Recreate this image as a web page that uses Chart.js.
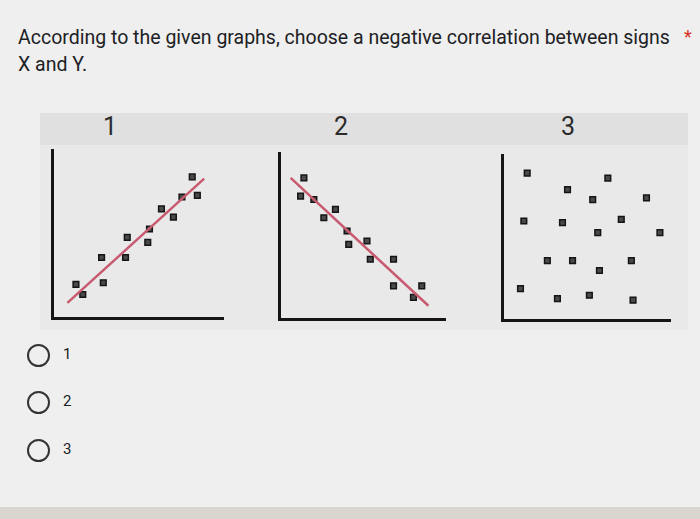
<!DOCTYPE html>
<html>
<head>
<meta charset="utf-8">
<script src="https://cdn.jsdelivr.net/npm/chart.js@4.4.0/dist/chart.umd.min.js"></script>
<style>
  body { margin: 0; width: 700px; height: 519px; background: #efefef; font-family: Roboto, "Noto Sans", sans-serif; position: relative; overflow: hidden; }
  .q { position: absolute; left: 18px; top: 24px; font-size: 19.5px; line-height: 27px; color: #202124; width: 680px; }
  .star { position: absolute; left: 684px; top: 26px; color: #d93025; font-size: 18px; }
  .panel { position: absolute; left: 40px; top: 145px; width: 648px; height: 185px; background: #e9e9e9; }
  .strip { position: absolute; left: 40px; top: 113px; width: 648px; height: 32px; background: #e0e0e0; }
  .num { position: absolute; top: 112px; font-size: 25px; color: #2b2b2b; width: 30px; text-align: center; }
  canvas { position: absolute; }
  .opt { position: absolute; left: 27px; width: 19px; height: 19px; border: 2px solid #333; border-radius: 50%; }
  .lbl { position: absolute; left: 63px; font-size: 15px; color: #202124; }
  .foot { position: absolute; left: 0; top: 507px; width: 700px; height: 12px; background: #d9d6cf; }
</style>
</head>
<body>
<div class="q">According to the given graphs, choose a negative correlation between signs<br>X and Y.</div>
<div class="star">*</div>
<div class="strip"></div>
<div class="panel"></div>
<div class="num" style="left:95px">1</div>
<div class="num" style="left:326px">2</div>
<div class="num" style="left:553px">3</div>
<canvas id="g1" style="left:43px;top:140px;width:190px;height:190px" width="190" height="190"></canvas>
<canvas id="g2" style="left:270px;top:143px;width:185px;height:188px" width="185" height="188"></canvas>
<canvas id="g3" style="left:493px;top:145px;width:187px;height:187px" width="187" height="187"></canvas>
<div class="opt" style="top:344px"></div><div class="lbl" style="top:345px">1</div>
<div class="opt" style="top:391px"></div><div class="lbl" style="top:392px">2</div>
<div class="opt" style="top:439px"></div><div class="lbl" style="top:440px">3</div>
<div class="foot"></div>
<script>
// graph 1 - positive
var g1X = [8.2, 8.5, 7.6, 7.1, 6.4, 5.7, 5.6, 4.4, 4.3, 2.9, 3.0, 1.4, 1.8];
var g1Y = [8.4, 7.3, 7.2, 6.0, 6.5, 5.3, 4.5, 4.8, 3.6, 3.6, 2.1, 2.0, 1.4];
var g1LineX = [0.9, 8.9];
var g1LineY = [0.9, 8.3];

// graph 2 - negative
var g2X = [1.5, 1.3, 2.1, 3.4, 2.7, 4.1, 4.2, 5.3, 5.5, 6.9, 6.9, 8.6, 8.1];
var g2Y = [8.5, 7.4, 7.2, 6.6, 6.1, 5.3, 4.5, 4.7, 3.6, 3.6, 2.0, 2.0, 1.3];
var g2LineX = [0.7, 9.0];
var g2LineY = [8.5, 0.8];

// graph 3 - none
var g3X = [1.5, 6.3, 3.9, 5.4, 8.6, 1.3, 3.6, 7.1, 5.7, 9.4, 2.7, 4.2, 7.7, 5.8, 1.1, 3.3, 5.2, 7.8];
var g3Y = [8.9, 8.6, 7.9, 7.3, 7.4, 6.0, 5.9, 6.1, 5.3, 5.3, 3.6, 3.6, 3.6, 3.0, 1.9, 1.3, 1.5, 1.2];

function pts(xs, ys) {
  return xs.map(function (x, i) { return { x: x, y: ys[i] }; });
}

function makeGraph(id, xs, ys, lx, ly) {
  var ctx = document.getElementById(id).getContext('2d');
  var datasets = [];
  if (lx) {
    datasets.push({
      type: 'line',
      data: pts(lx, ly),
      borderColor: '#c85a70',
      borderWidth: 2.5,
      pointRadius: 0,
      clip: false
    });
  }
  datasets.push({
    data: pts(xs, ys),
    pointStyle: 'rect',
    pointRadius: 4,
    backgroundColor: '#4a4a4a',
    borderColor: '#151515',
    borderWidth: 1.5,
    clip: false
  });
  new Chart(ctx, {
    type: 'scatter',
    data: { datasets: datasets },
    options: {
      responsive: false,
      animation: false,
      // axes take ~9px on their own with hidden ticks
      layout: { padding: { left: 1, top: 10, right: 10, bottom: 4 } },
      plugins: { legend: { display: false }, tooltip: { enabled: false } },
      scales: {
        x: {
          min: 0, max: 10,
          grid: { display: false },
          ticks: { display: false },
          border: { color: '#151515', width: 3 }
        },
        y: {
          min: 0, max: 10,
          grid: { display: false },
          ticks: { display: false },
          border: { color: '#151515', width: 3 }
        }
      }
    }
  });
}

makeGraph('g1', g1X, g1Y, g1LineX, g1LineY);
makeGraph('g2', g2X, g2Y, g2LineX, g2LineY);
makeGraph('g3', g3X, g3Y);
</script>
</body>
</html>
